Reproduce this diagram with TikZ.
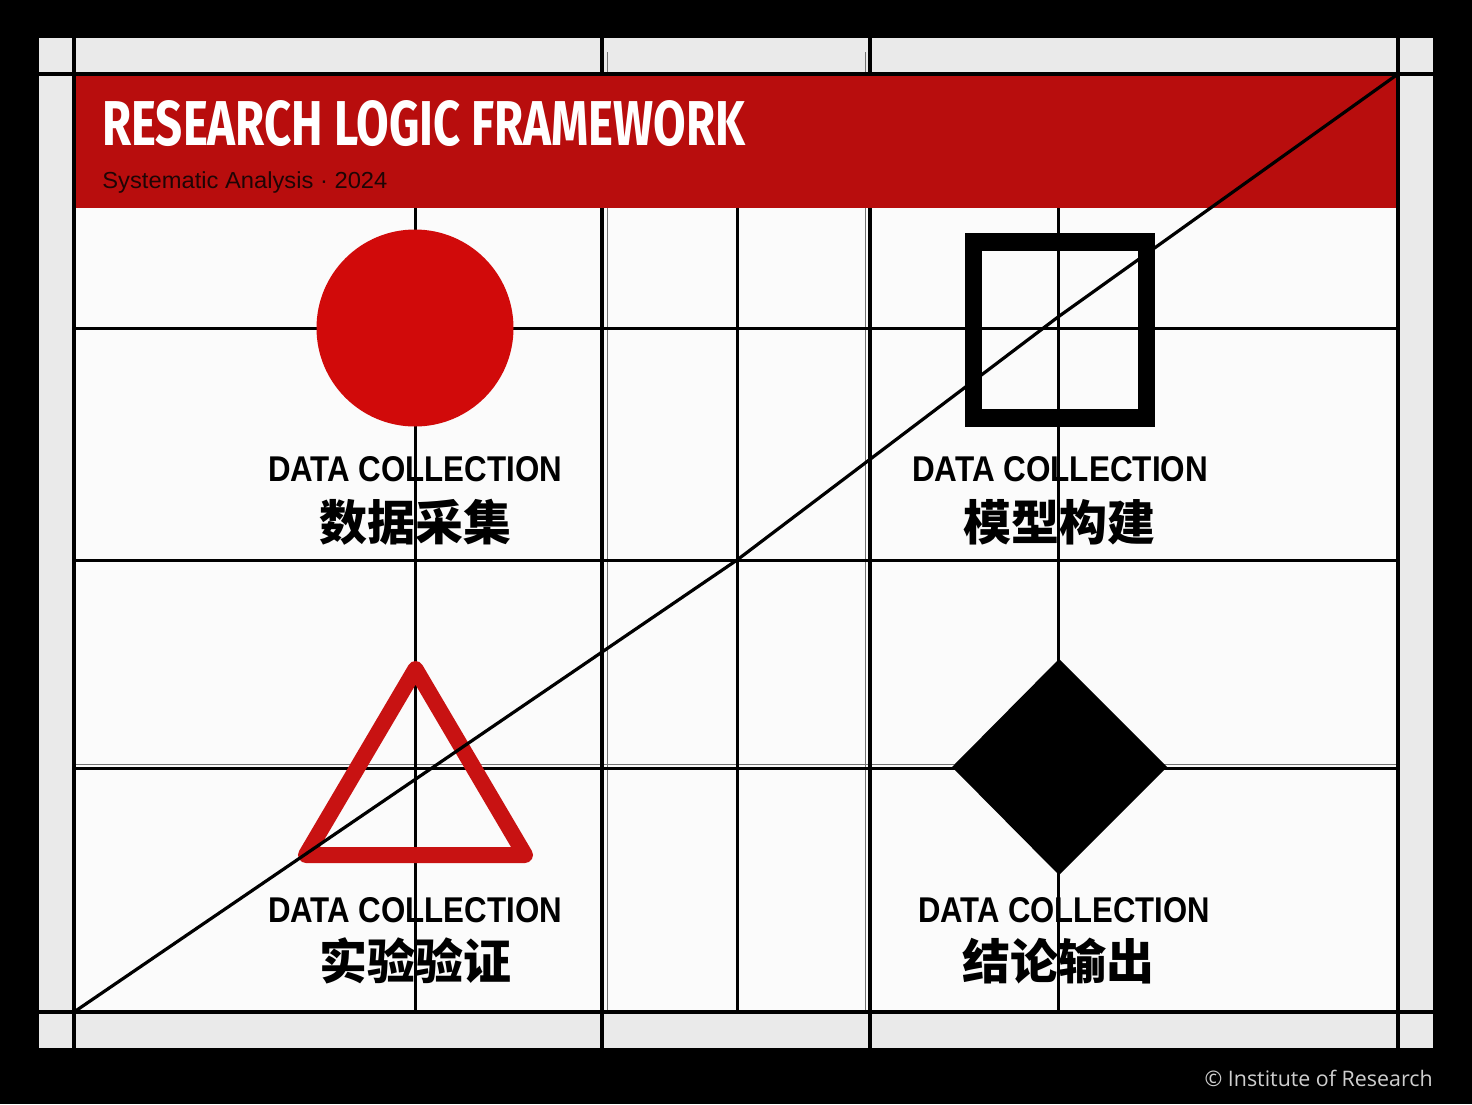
\documentclass[tikz,border=0pt]{standalone}
\usepackage{fontspec}
\setmainfont{Liberation Sans}
\newfontfamily\titlefont{Fira Sans}
\newfontfamily\cjk{Noto Sans CJK SC}
\newfontfamily\copyfont{Open Sans}
\definecolor{bannerred}{HTML}{B80D0D}
\definecolor{circred}{HTML}{D10A0A}
\definecolor{trired}{HTML}{C81212}
\definecolor{panelgray}{HTML}{EAEAEA}
\definecolor{paper}{HTML}{FBFBFB}
\definecolor{subdark}{HTML}{1E0505}
\definecolor{copygray}{HTML}{CFCFCF}
\begin{document}
\begin{tikzpicture}[x=0.5pt,y=-0.5pt,
  gridline/.style={line width=1.5pt,black},
  frameline/.style={line width=2pt,black},
  hairline/.style={line width=0.5pt,black!55},
  diagline/.style={line width=1.6pt,black,line join=round},
  entxt/.style={inner sep=0,anchor=center,text=black},
  cntxt/.style={inner sep=0,anchor=center,text=black,font=\cjk\bfseries\fontsize{24}{28}\selectfont},
  ]
\fill[black] (0,0) rectangle (1472,1104);
\useasboundingbox (0,0) rectangle (1472,1104);
\fill[panelgray] (39,38) rectangle (1433,1048);
\fill[paper] (74,208) rectangle (1398,1012);
% thin companion lines
\draw[hairline] (607,52) -- (607,1012);
\draw[hairline] (865,52) -- (865,1012);
\draw[hairline] (74,764) -- (1398,764);
% interior grid
\draw[gridline] (415,208) -- (415,1012);
\draw[gridline] (737,208) -- (737,1012);
\draw[gridline] (1058,208) -- (1058,1012);
\draw[gridline] (74,328) -- (1398,328);
\draw[gridline] (74,560) -- (1398,560);
\draw[gridline] (74,768) -- (1398,768);
\draw[frameline] (602,38) -- (602,1048);
\draw[frameline] (870,38) -- (870,1048);
% banner
\fill[bannerred] (75.5,75.5) rectangle (1396.5,208);
% outer frame lines
\draw[frameline] (39,74) -- (1433,74);
\draw[frameline] (39,1012) -- (1433,1012);
\draw[frameline] (74,38) -- (74,1048);
\draw[frameline] (1398,38) -- (1398,1048);
% title texts
\node[anchor=south west,inner sep=0,text=white] (title) at (102,147)
  {\resizebox{321.5pt}{22.5pt}{\titlefont\bfseries RESEARCH LOGIC FRAMEWORK}};
\node[anchor=base west,inner sep=0,text=subdark] (subtitle) at (102,188)
  {\resizebox{142.5pt}{8.4pt}{\fontsize{15}{18}\selectfont Systematic Analysis · 2024}};
% shapes
\node[circle,fill=circred,minimum size=98.5pt,inner sep=0] (circ) at (415,328) {};
\node[rectangle,draw=black,line width=8.75pt,minimum width=86.5pt,minimum height=88pt,inner sep=0] (sq) at (1060,330) {};
\coordinate (tA) at (415.5,669);
\coordinate (tB) at (525,855);
\coordinate (tC) at (306,855);
\draw[trired,line width=8pt,line join=round] (tA) -- (tB) -- (tC) -- cycle;
\coordinate (dT) at (1059,659);
\coordinate (dR) at (1167,767);
\coordinate (dBo) at (1059,875);
\coordinate (dL) at (952,767);
\fill[black] (dT) -- (dR) -- (dBo) -- (dL) -- cycle;
% diagonal
\coordinate (gA) at (74,1012);
\coordinate (gM) at (737,560);
\coordinate (gQ) at (1058,317);
\coordinate (gB) at (1398,74);
\draw[diagline] (gA) -- (gM) -- (gQ) -- (gB);
% labels
\node[entxt] (l1en) at (415,469.5) {\resizebox{147pt}{12.5pt}{\bfseries DATA COLLECTION}};
\node[cntxt] (l1cn) at (415,522) {数据采集};
\node[entxt] (l2en) at (1060,469.5) {\resizebox{148pt}{12.5pt}{\bfseries DATA COLLECTION}};
\node[cntxt] (l2cn) at (1059,522) {模型构建};
\node[entxt] (l3en) at (415,910.5) {\resizebox{147pt}{12.5pt}{\bfseries DATA COLLECTION}};
\node[cntxt] (l3cn) at (415,961) {实验验证};
\node[entxt] (l4en) at (1064,910.5) {\resizebox{146pt}{12.5pt}{\bfseries DATA COLLECTION}};
\node[cntxt] (l4cn) at (1058,961) {结论输出};
% footer
\node[anchor=base east,inner sep=0,text=copygray] (copy) at (1433,1086)
  {\resizebox{114pt}{!}{\copyfont\fontsize{12}{14}\selectfont © Institute of Research}};
\end{tikzpicture}
\end{document}
